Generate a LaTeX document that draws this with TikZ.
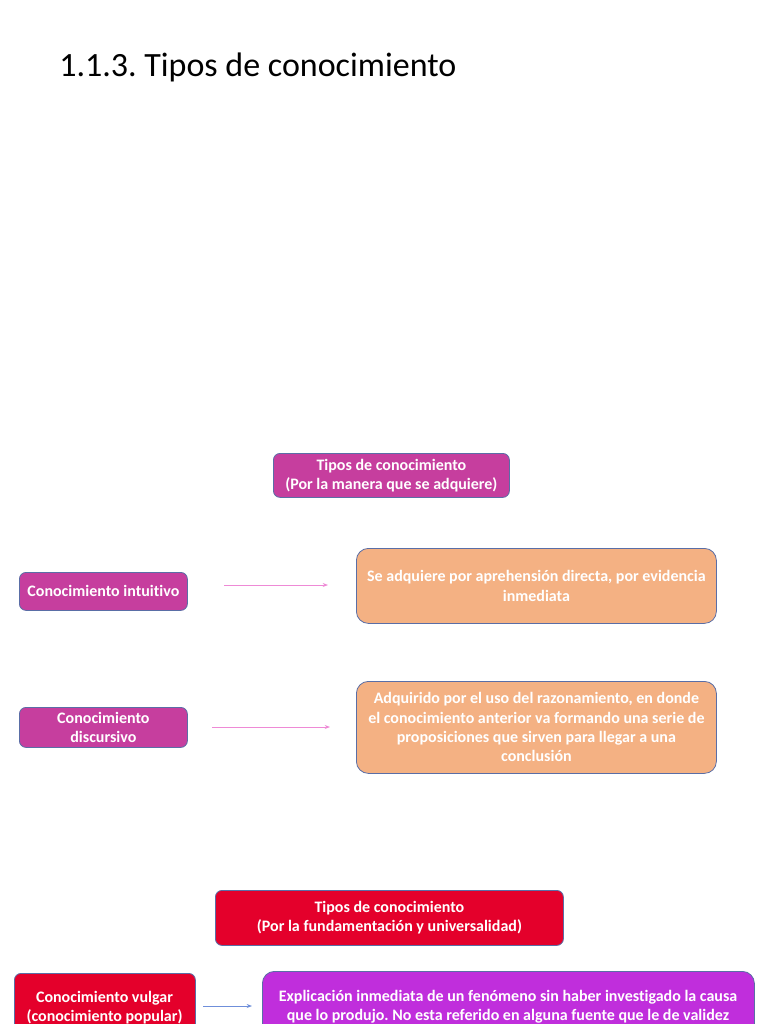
\documentclass[tikz,border=0pt]{standalone}
\usepackage{fontspec}
\setmainfont{Carlito}[Ligatures=NoCommon]
\usetikzlibrary{arrows.meta}
\definecolor{mag}{HTML}{C63E9E}
\definecolor{org}{HTML}{F4B183}
\definecolor{redb}{HTML}{E4002B}
\definecolor{purb}{HTML}{C02EDC}
\definecolor{edgeb}{HTML}{5A6EA6}
\definecolor{pinkarr}{HTML}{EE8AD6}
\definecolor{bluearr}{HTML}{6F8FDA}
\tikzset{
  box/.style={draw=edgeb, line width=0.6pt, rounded corners=5pt, text=white, font=\bfseries\fontsize{12}{14.5}\selectfont, align=center, inner sep=0pt, anchor=north west},
  magbox/.style={box, fill=mag},
  orgbox/.style={box, fill=org, rounded corners=9pt},
  redbox/.style={box, fill=redb},
  purbox/.style={box, fill=purb, rounded corners=9pt},
  boxtext/.style={anchor=north, inner sep=0pt, text=white, font=\bfseries\fontsize{12}{14.5}\selectfont, align=center},
  pinkarrow/.style={draw=pinkarr, line width=0.6pt, -{Stealth[length=4pt,width=3pt]}},
  bluearrow/.style={draw=bluearr, line width=0.6pt, -{Stealth[length=4pt,width=3pt]}},
}
\begin{document}
\frenchspacing
\begin{tikzpicture}[x=0.75pt,y=-0.75pt]
\useasboundingbox (0,0) rectangle (768,1024);
\fill[white] (0,0) rectangle (768,1024);
\node[anchor=base west, inner sep=0pt, font=\fontsize{25.5}{30}\selectfont] (title) at (59,76) {1.1.3. Tipos de conocimiento};

\node[magbox, minimum width=236*0.75pt, minimum height=44*0.75pt] (h1) at (273,453) {Tipos de conocimiento\\(Por la manera que se adquiere)};

\node[magbox, minimum width=168*0.75pt, minimum height=38*0.75pt] (ci) at (19,572) {Conocimiento intuitivo};
\node[orgbox, minimum width=360*0.75pt, minimum height=75*0.75pt] (o1) at (356,548) {Se adquiere por aprehensión directa, por evidencia\\inmediata};
\coordinate (a1s) at (224,585);
\coordinate (a1e) at (328,585);
\draw[pinkarrow] (a1s) -- (a1e);

\node[magbox, minimum width=168*0.75pt, minimum height=40*0.75pt] (cd) at (19,707) {Conocimiento\\discursivo};
\node[orgbox, minimum width=360*0.75pt, minimum height=92*0.75pt] (o2) at (356,681) {Adquirido por el uso del razonamiento, en donde\\el conocimiento anterior va formando una serie de\\proposiciones que sirven para llegar a una\\conclusión};
\coordinate (a2s) at (212,727);
\coordinate (a2e) at (330,727);
\draw[pinkarrow] (a2s) -- (a2e);

\node[redbox, minimum width=348*0.75pt, minimum height=55*0.75pt] (h2) at (215,890) {Tipos de conocimiento\\(Por la fundamentación y universalidad)};

\begin{scope}
\clip (0,0) rectangle (768,1024);
\node[redbox, minimum width=181*0.75pt, minimum height=70*0.75pt] (cv) at (14,973) {};
\node[boxtext] (cvt) at (104.5,991) {Conocimiento vulgar\\(conocimiento popular)};
\node[purbox, minimum width=492*0.75pt, minimum height=70*0.75pt] (pv) at (262,971) {};
\node[boxtext] (pvt) at (508,990) {Explicación inmediata de un fenómeno sin haber investigado la causa\\que lo produjo. No esta referido en alguna fuente que le de validez};
\end{scope}
\coordinate (a3s) at (203,1006);
\coordinate (a3e) at (252,1006);
\draw[bluearrow] (a3s) -- (a3e);
\end{tikzpicture}
\end{document}
